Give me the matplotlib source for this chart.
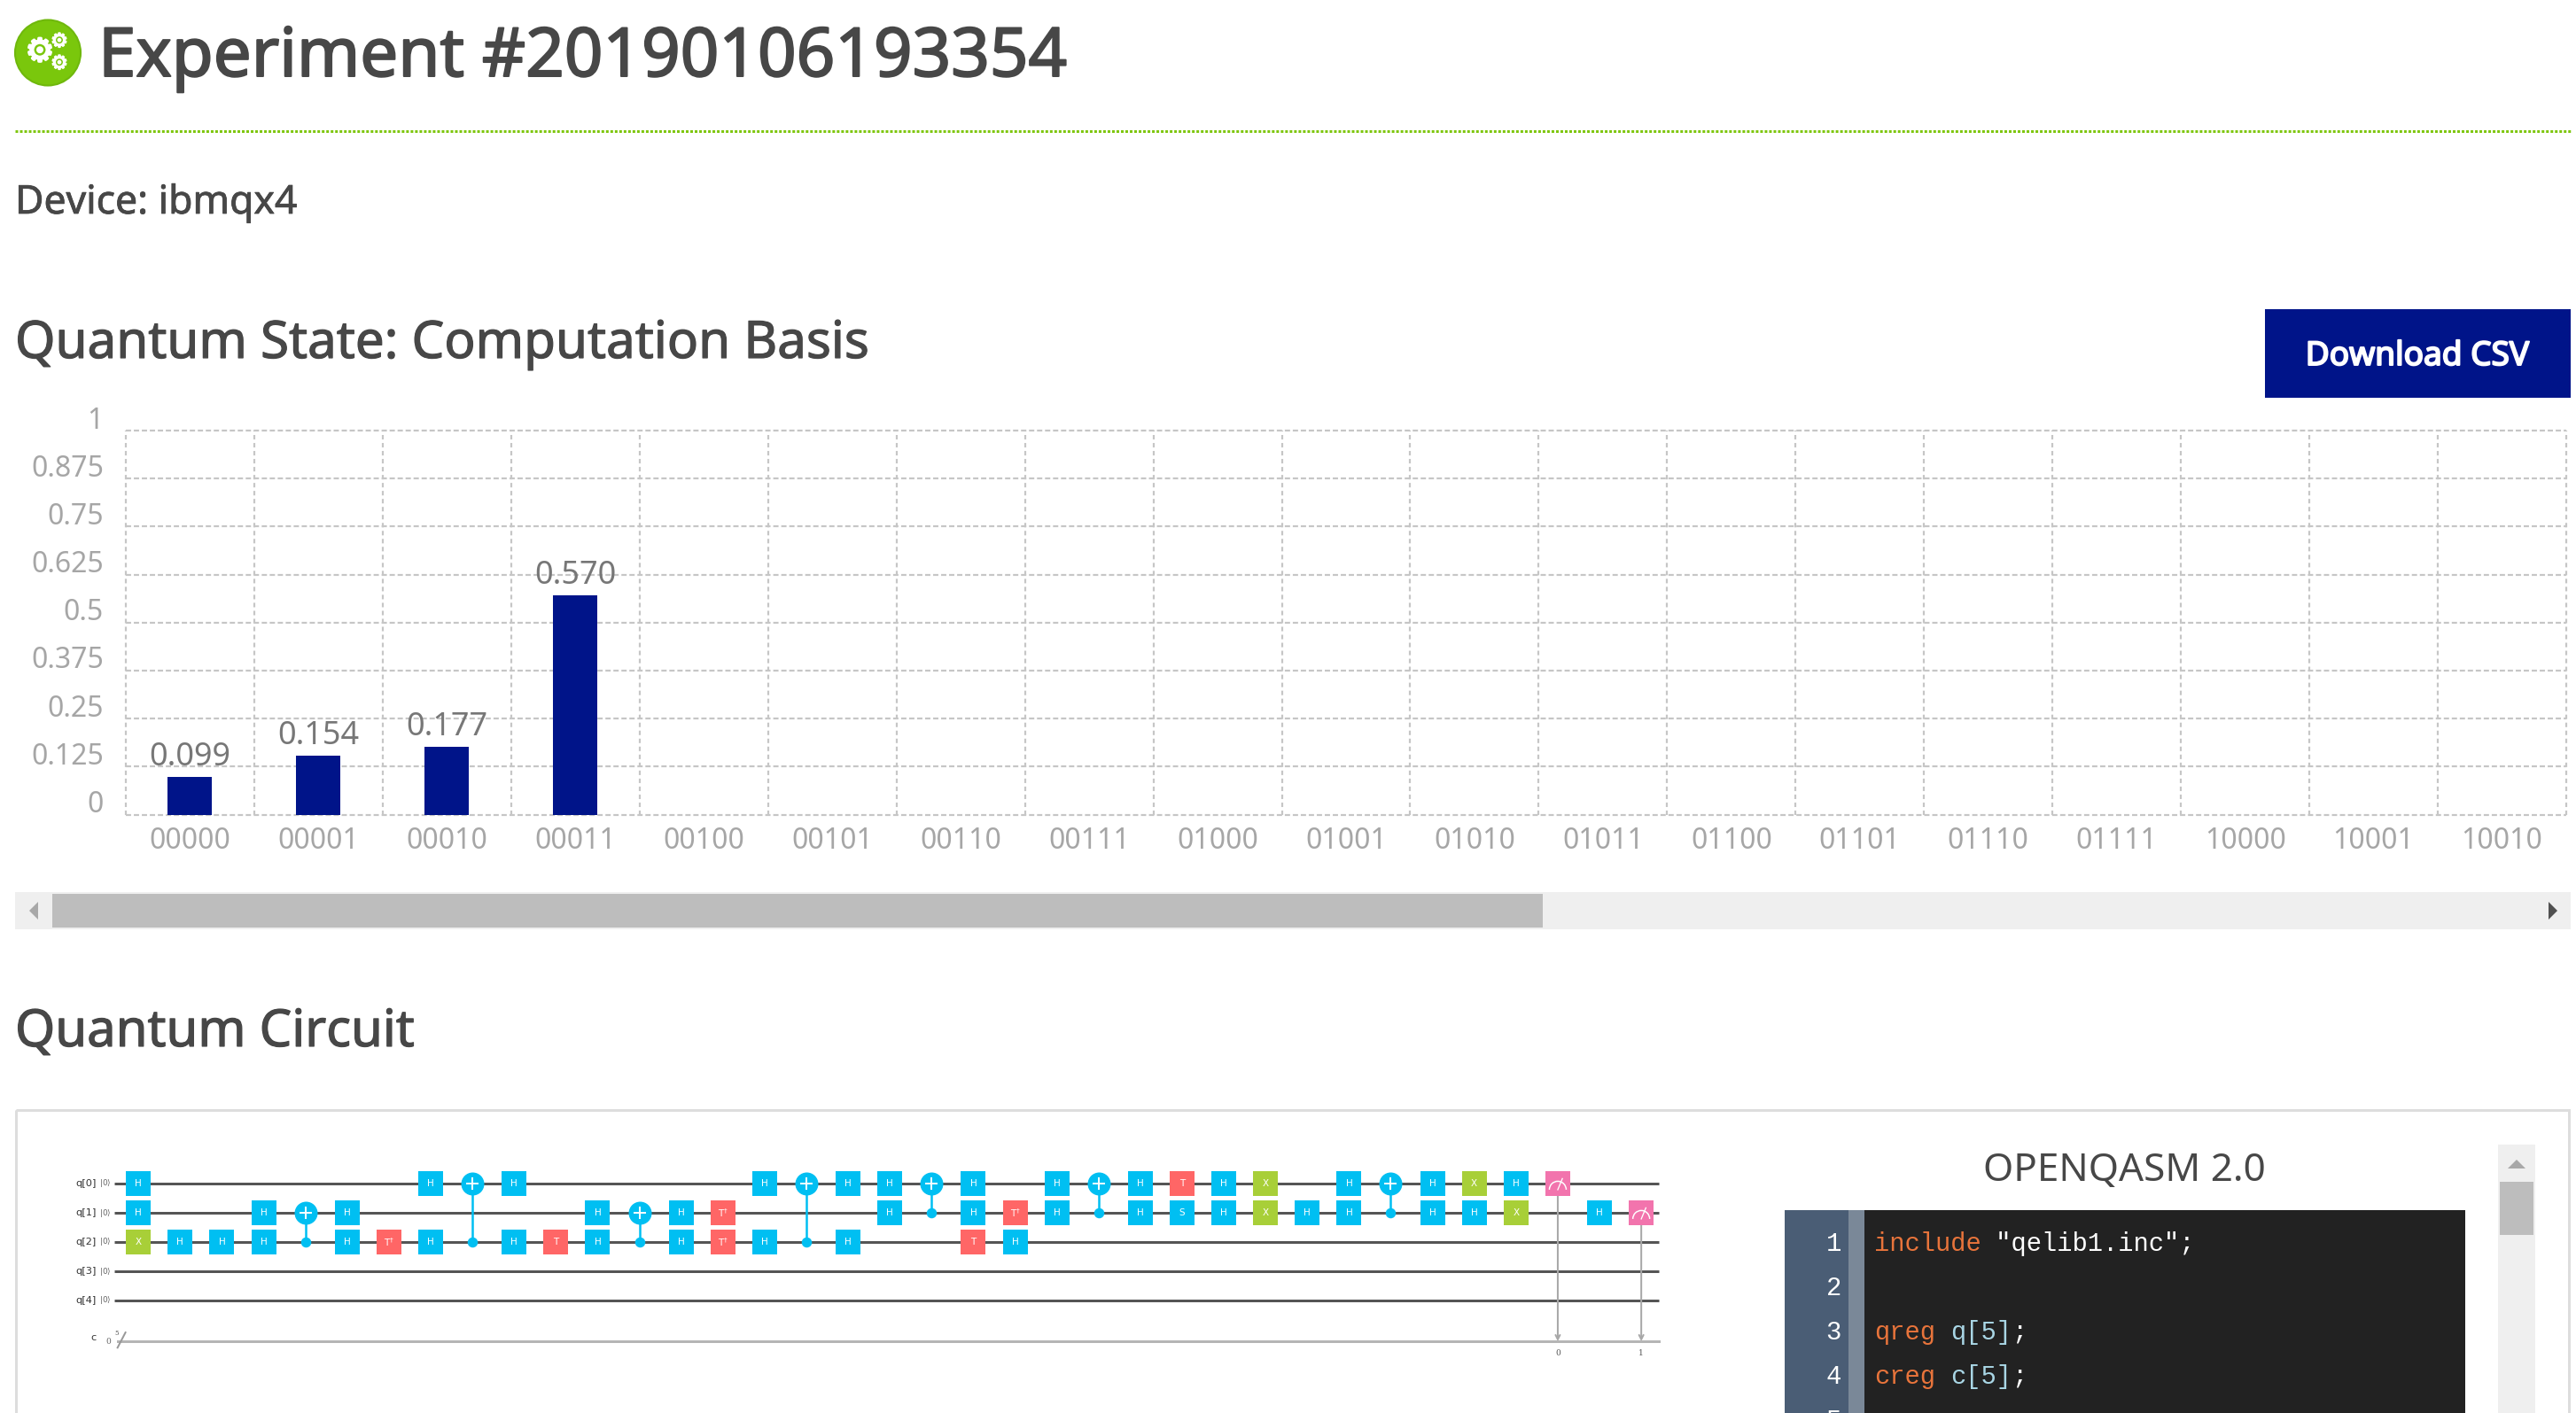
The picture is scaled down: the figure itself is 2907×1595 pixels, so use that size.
import matplotlib
matplotlib.use("Agg")
import matplotlib.patheffects as pe
import matplotlib.pyplot as plt
from matplotlib.patches import Circle, Polygon, Rectangle
from matplotlib.path import Path
from matplotlib.transforms import ScaledTranslation

W, H, DPI = 2907, 1595, 100
UI_FONT = ["Noto Sans", "DejaVu Sans"]
CODE_FONT = ["Liberation Mono", "DejaVu Sans Mono"]
plt.rcParams["font.family"] = UI_FONT

# ── Data ──────────────────────────────────────────────────────────────────────
STATES = ["00000", "00001", "00010", "00011", "00100", "00101", "00110", "00111", "01000", "01001",
          "01010", "01011", "01100", "01101", "01110", "01111", "10000", "10001", "10010"]
PROBS = [0.099, 0.154, 0.177, 0.570]
Y_TICKS = [0, 0.125, 0.25, 0.375, 0.5, 0.625, 0.75, 0.875, 1]
Y_LABELS = ["0", "0.125", "0.25", "0.375", "0.5", "0.625", "0.75", "0.875", "1"]

WIRES = ["q[0]", "q[1]", "q[2]", "q[3]", "q[4]"]
# one tuple per gate: column, wire, name
GATES = [
    (0, 0, "H"), (0, 1, "H"), (0, 2, "X"), (1, 2, "H"), (2, 2, "H"), (3, 1, "H"), (3, 2, "H"),
    (5, 1, "H"), (5, 2, "H"), (6, 2, "Tdg"), (7, 0, "H"), (7, 2, "H"), (9, 0, "H"), (9, 2, "H"),
    (10, 2, "T"), (11, 1, "H"), (11, 2, "H"), (13, 1, "H"), (13, 2, "H"), (14, 1, "Tdg"), (14, 2, "Tdg"),
    (15, 0, "H"), (15, 2, "H"), (17, 0, "H"), (17, 2, "H"), (18, 0, "H"), (18, 1, "H"),
    (20, 0, "H"), (20, 1, "H"), (20, 2, "T"), (21, 1, "Tdg"), (21, 2, "H"), (22, 0, "H"), (22, 1, "H"),
    (24, 0, "H"), (24, 1, "H"), (25, 0, "T"), (25, 1, "S"), (26, 0, "H"), (26, 1, "H"),
    (27, 0, "X"), (27, 1, "X"), (28, 1, "H"), (29, 0, "H"), (29, 1, "H"), (31, 0, "H"), (31, 1, "H"),
    (32, 0, "X"), (32, 1, "H"), (33, 0, "H"), (33, 1, "X"), (35, 1, "H"),
]
# column, target wire, control wire
CNOTS = [(4, 1, 2), (8, 0, 2), (12, 1, 2), (16, 0, 2), (19, 0, 1), (23, 0, 1), (30, 0, 1)]
# column, wire, classical bit
MEASURES = [(34, 0, "0"), (36, 1, "1")]

CODE_LINES = [
    [("include", "#e8743b"), (' "qelib1.inc";', "#ffffff")],
    [],
    [("qreg", "#e8743b"), (" ", "#ffffff"), ("q[5]", "#a9d6e5"), (";", "#ffffff")],
    [("creg", "#e8743b"), (" ", "#ffffff"), ("c[5]", "#a9d6e5"), (";", "#ffffff")],
    [],
]

# ── Colours ───────────────────────────────────────────────────────────────────
INK = "#474747"
NAVY = "#001489"
GREEN = "#7ac70c"
TRACK = "#efefef"
THUMB = "#bdbdbd"
GRID = "#c6c6c6"
GATE_COLOURS = {"H": "#00bff2", "X": "#a8cf38", "T": "#ff6666", "Tdg": "#ff6666", "S": "#00bff2"}
GATE_LABELS = {"H": "H", "X": "X", "T": "T", "S": "S", "Tdg": r"T$^{\dagger}$"}
MEASURE_COLOUR = "#f274ad"


def px(v):
    return v * 72 / DPI


def heavier(width, colour=INK):
    # the installed fonts have no medium weight, so thicken the regular one
    return [pe.withStroke(linewidth=px(width), foreground=colour)]


def axes_at(fig, left, top, right, bottom):
    return fig.add_axes([left / W, 1 - bottom / H, (right - left) / W, (bottom - top) / H])


fig = plt.figure(figsize=(W / DPI, H / DPI), dpi=DPI, facecolor="white")

# ── Page furniture, in pixel coordinates ──────────────────────────────────────
page = fig.add_axes([0, 0, 1, 1])
page.set_xlim(0, W)
page.set_ylim(H, 0)
page.axis("off")

page.add_patch(Circle((54, 59.5), 37, fc=GREEN, ec="#6fb80c", lw=1.5))
page.text(45, 59, "\u2699", color="white", fontsize=px(36), ha="center", va="center", family="DejaVu Sans",
          path_effects=heavier(2.5, "white"))
page.text(67, 47, "\u2699", color="white", fontsize=px(22), ha="center", va="center", family="DejaVu Sans",
          path_effects=heavier(1.5, "white"))
page.text(67, 72, "\u2699", color="white", fontsize=px(22), ha="center", va="center", family="DejaVu Sans",
          path_effects=heavier(1.5, "white"))

page.text(111, 86, "Experiment #20190106193354", color=INK, fontsize=px(76.3), va="baseline",
          path_effects=heavier(2))
page.plot([17, 2901], [148, 148], color="#7fc60f", lw=px(3), ls=(0, (1, 0.67)))
page.text(17, 241, "Device: ibmqx4", color=INK, fontsize=px(44.5), va="baseline", path_effects=heavier(0.8))
page.text(17, 404, "Quantum State: Computation Basis", color=INK, fontsize=px(58.3), va="baseline",
          path_effects=heavier(1.2))
page.text(17, 1181, "Quantum Circuit", color=INK, fontsize=px(58), va="baseline", path_effects=heavier(1.2))

page.add_patch(Rectangle((2556, 349), 345, 100, fc=NAVY, ec="none"))
page.text(2728, 412, "Download CSV", color="white", fontsize=px(37), ha="center", va="baseline",
          path_effects=heavier(2, "white"))

# horizontal scrollbar
page.add_patch(Rectangle((17, 1007), 2884, 42, fc=TRACK, ec="none"))
page.add_patch(Rectangle((59, 1009), 1682, 38, fc=THUMB, ec="none"))
page.add_patch(Polygon([(33, 1028), (43, 1018), (43, 1038)], fc="#a8a8a8", ec="none"))
page.add_patch(Polygon([(2886, 1028), (2876, 1018), (2876, 1038)], fc="#505050", ec="none"))

# circuit panel border runs off the bottom of the page
page.add_patch(Rectangle((18, 1253), 2881, 400, fc="none", ec="#dddddd", lw=px(3)))

# ── Probability bars ──────────────────────────────────────────────────────────
ax = axes_at(fig, 142, 486, 2896, 919.5)
ax.set_facecolor("none")
ax.bar(range(len(PROBS)), PROBS, width=0.345, color=NAVY, zorder=3)
for i, p in enumerate(PROBS):
    ax.annotate(f"{p:.3f}", (i, p), xytext=(0, px(13)), textcoords="offset points", ha="center", va="baseline",
                color="#777777", fontsize=px(36))
ax.set_xlim(-0.5, len(STATES) - 0.5)
ax.set_ylim(0, 1)
ax.set_xticks(range(len(STATES)), STATES)
ax.set_xticks([i - 0.5 for i in range(len(STATES) + 1)], minor=True)
ax.set_yticks(Y_TICKS, Y_LABELS)
ax.grid(True, which="minor", axis="x", color=GRID, lw=px(2.2), ls=(0, (2.3, 1.8)), clip_on=False)
ax.grid(True, which="major", axis="y", color=GRID, lw=px(2.2), ls=(0, (2.7, 1.4)), clip_on=False)
ax.tick_params(which="both", length=0)
ax.tick_params(axis="x", labelsize=px(32), labelcolor="#a6a6a6", pad=px(14))
ax.tick_params(axis="y", labelsize=px(32), labelcolor="#a6a6a6", pad=px(25))
for spine in ax.spines.values():
    spine.set_visible(False)
ax.set_axisbelow(True)
for lab in ax.get_yticklabels():
    lab.set_transform(lab.get_transform() + ScaledTranslation(0, 15 / DPI, fig.dpi_scale_trans))

# ── Circuit: x is the gate column, y is the wire number ───────────────────────
COL_PX, WIRE_PX = 47.11, 33
circ = axes_at(fig, 86, 1310, 1880, 1535)
circ.set_xlim((86 - 156.2) / COL_PX, (1880 - 156.2) / COL_PX)
circ.set_ylim((1535 - 1336) / WIRE_PX, (1310 - 1336) / WIRE_PX)
circ.axis("off")
circ.patch.set_alpha(0)

C_WIRE = 5.394
X_START, X_END = -0.58, 36.42
GATE_SIZE = px(27) ** 2

for w, name in enumerate(WIRES):
    circ.plot([X_START, X_END], [w, w], color="#555555", lw=px(3), zorder=1, solid_capstyle="butt")
    circ.text(X_START - 0.42, w, name, ha="right", va="center", fontsize=8.2, color="#333333", family="DejaVu Sans")
    circ.text(X_START - 0.08, w, r"$|0\rangle$", ha="right", va="center", fontsize=6.5, color="#666666")
circ.plot([X_START + 0.08, X_END], [C_WIRE, C_WIRE], color="#b5b5b5", lw=px(3), zorder=1)
circ.text(-1.0, C_WIRE - 0.12, "c", ha="right", va="center", fontsize=8.2, color="#333333", family="DejaVu Sans")
circ.text(-0.72, C_WIRE, "0", ha="center", va="center", fontsize=6.5, color="#666666", family="DejaVu Serif")
circ.text(-0.53, C_WIRE - 0.27, "5", ha="center", va="center", fontsize=5, color="#555555", family="DejaVu Serif")
circ.plot([-0.5, -0.31], [C_WIRE + 0.22, C_WIRE - 0.3], color="#999999", lw=px(2))

for col, target, control in CNOTS:
    circ.plot([col, col], [target, control], color=GATE_COLOURS["H"], lw=px(2.5), zorder=2)
    circ.scatter([col], [target], s=px(26) ** 2, color=GATE_COLOURS["H"], zorder=3, linewidths=0)
    circ.scatter([col], [target], s=px(14) ** 2, marker="+", color="white", zorder=4, linewidths=px(2))
    circ.scatter([col], [control], s=px(11.5) ** 2, color=GATE_COLOURS["H"], zorder=3, linewidths=0)

for col, wire, name in GATES:
    circ.scatter([col], [wire], s=GATE_SIZE, marker="s", color=GATE_COLOURS[name], zorder=3, linewidths=0)
    circ.text(col, wire, GATE_LABELS[name], color="white", fontsize=7.5, ha="center", va="center", zorder=4,
              family="DejaVu Sans")

METER = Path.arc(0, 180)
for col, wire, bit in MEASURES:
    circ.annotate("", (col, C_WIRE), xytext=(col, wire), zorder=2,
                  arrowprops=dict(arrowstyle="->,head_length=0.35,head_width=0.18", color="#a8a8a8", lw=px(2),
                                  shrinkA=0, shrinkB=0))
    circ.scatter([col], [wire], s=GATE_SIZE, marker="s", color=MEASURE_COLOUR, zorder=3, linewidths=0)
    circ.scatter([col], [wire + 0.21], s=px(19) ** 2, marker=METER, facecolors="none", edgecolors="white", zorder=4,
                 linewidths=px(1.5))
    circ.plot([col, col + 0.11], [wire + 0.21, wire - 0.17], color="white", lw=px(1.3), zorder=4)
    circ.text(col, C_WIRE + 0.42, bit, ha="center", va="center", fontsize=6.5, color="#555555", family="DejaVu Serif")

# ── OPENQASM source pane ──────────────────────────────────────────────────────
page.text(2397, 1333, "OPENQASM 2.0", color=INK, fontsize=px(44), ha="center", va="baseline")
page.add_patch(Rectangle((2014, 1366), 768, 240, fc="#222222", ec="none"))
page.add_patch(Rectangle((2014, 1366), 72, 240, fc="#4a5d75", ec="none"))
page.add_patch(Rectangle((2086, 1366), 18, 240, fc="#7a8898", ec="none"))

CHAR_PX = 17.2
for n, segments in enumerate(CODE_LINES):
    baseline = 1412 + 50 * n
    page.text(2078, baseline, str(n + 1), color="white", fontsize=px(29), ha="right", va="baseline", family=CODE_FONT)
    chars = 0
    for text, colour in segments:
        page.text(2115 + chars * CHAR_PX, baseline, text, color=colour, fontsize=px(28.7), va="baseline",
                  family=CODE_FONT)
        chars += len(text)

# vertical scrollbar of the pane
page.add_patch(Rectangle((2819, 1292), 42, 310, fc=TRACK, ec="none"))
page.add_patch(Rectangle((2821, 1334), 38, 60, fc=THUMB, ec="none"))
page.add_patch(Polygon([(2840, 1309), (2830, 1319), (2850, 1319)], fc="#a8a8a8", ec="none"))

fig.savefig("out.png", dpi=DPI)
